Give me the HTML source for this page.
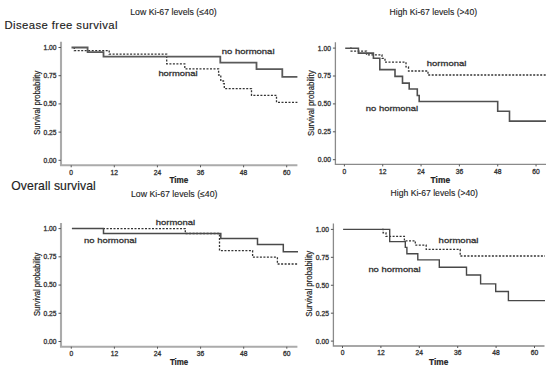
<!DOCTYPE html>
<html><head><meta charset="utf-8"><style>
html,body{margin:0;padding:0;background:#fff;width:550px;height:370px;overflow:hidden}
svg{display:block;font-family:"Liberation Sans", sans-serif}
</style></head><body>
<svg width="550" height="370" viewBox="0 0 550 370">
<rect width="550" height="370" fill="#fff"/>
<path d="M61.0,41.8 V165.3 H297.4" fill="none" stroke="#ababab" stroke-width="2.1"/>
<path d="M58.5,47.50 H61.0" stroke="#555" stroke-width="1"/>
<text x="56.5" y="49.90" font-size="6.7" font-weight="normal" fill="#333" text-anchor="end"  stroke="#333" stroke-width="0.3">1.00</text>
<path d="M58.5,75.70 H61.0" stroke="#555" stroke-width="1"/>
<text x="56.5" y="78.10" font-size="6.7" font-weight="normal" fill="#333" text-anchor="end"  stroke="#333" stroke-width="0.3">0.75</text>
<path d="M58.5,103.90 H61.0" stroke="#555" stroke-width="1"/>
<text x="56.5" y="106.30" font-size="6.7" font-weight="normal" fill="#333" text-anchor="end"  stroke="#333" stroke-width="0.3">0.50</text>
<path d="M58.5,132.10 H61.0" stroke="#555" stroke-width="1"/>
<text x="56.5" y="134.50" font-size="6.7" font-weight="normal" fill="#333" text-anchor="end"  stroke="#333" stroke-width="0.3">0.25</text>
<path d="M58.5,160.30 H61.0" stroke="#555" stroke-width="1"/>
<text x="56.5" y="162.70" font-size="6.7" font-weight="normal" fill="#333" text-anchor="end"  stroke="#333" stroke-width="0.3">0.00</text>
<path d="M71.20,165.3 V167.3" stroke="#555" stroke-width="1"/>
<text x="71.20" y="174.70000000000002" font-size="6.7" font-weight="normal" fill="#333" text-anchor="middle"  stroke="#333" stroke-width="0.3">0</text>
<path d="M114.30,165.3 V167.3" stroke="#555" stroke-width="1"/>
<text x="114.30" y="174.70000000000002" font-size="6.7" font-weight="normal" fill="#333" text-anchor="middle"  stroke="#333" stroke-width="0.3">12</text>
<path d="M157.40,165.3 V167.3" stroke="#555" stroke-width="1"/>
<text x="157.40" y="174.70000000000002" font-size="6.7" font-weight="normal" fill="#333" text-anchor="middle"  stroke="#333" stroke-width="0.3">24</text>
<path d="M200.50,165.3 V167.3" stroke="#555" stroke-width="1"/>
<text x="200.50" y="174.70000000000002" font-size="6.7" font-weight="normal" fill="#333" text-anchor="middle"  stroke="#333" stroke-width="0.3">36</text>
<path d="M243.60,165.3 V167.3" stroke="#555" stroke-width="1"/>
<text x="243.60" y="174.70000000000002" font-size="6.7" font-weight="normal" fill="#333" text-anchor="middle"  stroke="#333" stroke-width="0.3">48</text>
<path d="M286.70,165.3 V167.3" stroke="#555" stroke-width="1"/>
<text x="286.70" y="174.70000000000002" font-size="6.7" font-weight="normal" fill="#333" text-anchor="middle"  stroke="#333" stroke-width="0.3">60</text>
<text transform="translate(39.7,134.8) rotate(-90)" font-size="8.6" fill="#222" stroke="#222" stroke-width="0.2" textLength="64.00000000000001" lengthAdjust="spacingAndGlyphs">Survival probability</text>
<path d="M73.5,47.8 74.3,47.8 74.3,50.6 109.2,50.6 109.2,54.2 166.7,54.2 166.7,63.9 184.8,63.9 184.8,68.8 218.6,68.8 218.6,75 220.8,75 220.8,81 223.5,81 223.5,83.6 224.3,83.6 224.3,88.6 251.5,88.6 251.5,95.4 276.5,95.4 276.5,102.3 297.4,102.3" fill="none" stroke="#333" stroke-width="1.3" stroke-dasharray="2,1.5"/>
<path d="M71.5,47.5 87.6,47.5 87.6,52.2 103.5,52.2 103.5,56.7 220.3,56.7 220.3,62.7 256.5,62.7 256.5,69.2 282.3,69.2 282.3,76.9 297.4,76.9" fill="none" stroke="#5a5a5a" stroke-width="1.8"/>
<path d="M335.4,42.3 V164.4 H546" fill="none" stroke="#8a8a8a" stroke-width="1.3"/>
<path d="M332.9,48.10 H335.4" stroke="#555" stroke-width="1"/>
<text x="330.9" y="50.50" font-size="6.7" font-weight="normal" fill="#333" text-anchor="end"  stroke="#333" stroke-width="0.3">1.00</text>
<path d="M332.9,76.00 H335.4" stroke="#555" stroke-width="1"/>
<text x="330.9" y="78.40" font-size="6.7" font-weight="normal" fill="#333" text-anchor="end"  stroke="#333" stroke-width="0.3">0.75</text>
<path d="M332.9,103.90 H335.4" stroke="#555" stroke-width="1"/>
<text x="330.9" y="106.30" font-size="6.7" font-weight="normal" fill="#333" text-anchor="end"  stroke="#333" stroke-width="0.3">0.50</text>
<path d="M332.9,131.80 H335.4" stroke="#555" stroke-width="1"/>
<text x="330.9" y="134.20" font-size="6.7" font-weight="normal" fill="#333" text-anchor="end"  stroke="#333" stroke-width="0.3">0.25</text>
<path d="M332.9,159.70 H335.4" stroke="#555" stroke-width="1"/>
<text x="330.9" y="162.10" font-size="6.7" font-weight="normal" fill="#333" text-anchor="end"  stroke="#333" stroke-width="0.3">0.00</text>
<path d="M344.40,164.4 V166.4" stroke="#555" stroke-width="1"/>
<text x="344.40" y="173.8" font-size="6.7" font-weight="normal" fill="#333" text-anchor="middle"  stroke="#333" stroke-width="0.3">0</text>
<path d="M382.73,164.4 V166.4" stroke="#555" stroke-width="1"/>
<text x="382.73" y="173.8" font-size="6.7" font-weight="normal" fill="#333" text-anchor="middle"  stroke="#333" stroke-width="0.3">12</text>
<path d="M421.06,164.4 V166.4" stroke="#555" stroke-width="1"/>
<text x="421.06" y="173.8" font-size="6.7" font-weight="normal" fill="#333" text-anchor="middle"  stroke="#333" stroke-width="0.3">24</text>
<path d="M459.39,164.4 V166.4" stroke="#555" stroke-width="1"/>
<text x="459.39" y="173.8" font-size="6.7" font-weight="normal" fill="#333" text-anchor="middle"  stroke="#333" stroke-width="0.3">36</text>
<path d="M497.72,164.4 V166.4" stroke="#555" stroke-width="1"/>
<text x="497.72" y="173.8" font-size="6.7" font-weight="normal" fill="#333" text-anchor="middle"  stroke="#333" stroke-width="0.3">48</text>
<path d="M536.05,164.4 V166.4" stroke="#555" stroke-width="1"/>
<text x="536.05" y="173.8" font-size="6.7" font-weight="normal" fill="#333" text-anchor="middle"  stroke="#333" stroke-width="0.3">60</text>
<text transform="translate(313.6,136.1) rotate(-90)" font-size="8.6" fill="#222" stroke="#222" stroke-width="0.2" textLength="65.8" lengthAdjust="spacingAndGlyphs">Survival probability</text>
<path d="M350.0,48.2 351.1,48.2 351.1,51.1 366.5,51.1 366.5,54.8 382,54.8 382,58.4 385,58.4 385,62.2 406,62.2 406,66.9 408.5,66.9 408.5,71 428,71 428,75 546,75" fill="none" stroke="#333" stroke-width="1.3" stroke-dasharray="2,1.5"/>
<path d="M345.2,48.2 358.4,48.2 358.4,53.1 373.4,53.1 373.4,58.3 379.8,58.3 379.8,69.6 395,69.6 395,76.4 402.5,76.4 402.5,83.1 409.2,83.1 409.2,89 417.3,89 417.3,95.5 419.2,95.5 419.2,101.5 497.7,101.5 497.7,111.2 509.5,111.2 509.5,121.1 546,121.1" fill="none" stroke="#505050" stroke-width="1.6"/>
<path d="M61.0,222.9 V346.7 H297.4" fill="none" stroke="#ababab" stroke-width="2.1"/>
<path d="M58.5,228.60 H61.0" stroke="#555" stroke-width="1"/>
<text x="56.5" y="231.00" font-size="6.7" font-weight="normal" fill="#333" text-anchor="end"  stroke="#333" stroke-width="0.3">1.00</text>
<path d="M58.5,256.82 H61.0" stroke="#555" stroke-width="1"/>
<text x="56.5" y="259.22" font-size="6.7" font-weight="normal" fill="#333" text-anchor="end"  stroke="#333" stroke-width="0.3">0.75</text>
<path d="M58.5,285.05 H61.0" stroke="#555" stroke-width="1"/>
<text x="56.5" y="287.45" font-size="6.7" font-weight="normal" fill="#333" text-anchor="end"  stroke="#333" stroke-width="0.3">0.50</text>
<path d="M58.5,313.27 H61.0" stroke="#555" stroke-width="1"/>
<text x="56.5" y="315.67" font-size="6.7" font-weight="normal" fill="#333" text-anchor="end"  stroke="#333" stroke-width="0.3">0.25</text>
<path d="M58.5,341.50 H61.0" stroke="#555" stroke-width="1"/>
<text x="56.5" y="343.90" font-size="6.7" font-weight="normal" fill="#333" text-anchor="end"  stroke="#333" stroke-width="0.3">0.00</text>
<path d="M71.30,346.7 V348.7" stroke="#555" stroke-width="1"/>
<text x="71.30" y="356.09999999999997" font-size="6.7" font-weight="normal" fill="#333" text-anchor="middle"  stroke="#333" stroke-width="0.3">0</text>
<path d="M114.40,346.7 V348.7" stroke="#555" stroke-width="1"/>
<text x="114.40" y="356.09999999999997" font-size="6.7" font-weight="normal" fill="#333" text-anchor="middle"  stroke="#333" stroke-width="0.3">12</text>
<path d="M157.50,346.7 V348.7" stroke="#555" stroke-width="1"/>
<text x="157.50" y="356.09999999999997" font-size="6.7" font-weight="normal" fill="#333" text-anchor="middle"  stroke="#333" stroke-width="0.3">24</text>
<path d="M200.60,346.7 V348.7" stroke="#555" stroke-width="1"/>
<text x="200.60" y="356.09999999999997" font-size="6.7" font-weight="normal" fill="#333" text-anchor="middle"  stroke="#333" stroke-width="0.3">36</text>
<path d="M243.70,346.7 V348.7" stroke="#555" stroke-width="1"/>
<text x="243.70" y="356.09999999999997" font-size="6.7" font-weight="normal" fill="#333" text-anchor="middle"  stroke="#333" stroke-width="0.3">48</text>
<path d="M286.80,346.7 V348.7" stroke="#555" stroke-width="1"/>
<text x="286.80" y="356.09999999999997" font-size="6.7" font-weight="normal" fill="#333" text-anchor="middle"  stroke="#333" stroke-width="0.3">60</text>
<text transform="translate(39.8,316.1) rotate(-90)" font-size="8.6" fill="#222" stroke="#222" stroke-width="0.2" textLength="63.30000000000001" lengthAdjust="spacingAndGlyphs">Survival probability</text>
<path d="M103.0,228.6 185.3,228.6 185.3,233.5 219.5,233.5 219.5,250.7 252.6,250.7 252.6,257.2 277.4,257.2 277.4,264 298,264" fill="none" stroke="#333" stroke-width="1.3" stroke-dasharray="2,1.5"/>
<path d="M71.9,228.6 103.5,228.6 103.5,233.5 220.8,233.5 220.8,238.4 257.5,238.4 257.5,244.6 283.3,244.6 283.3,251.7 298,251.7" fill="none" stroke="#4a4a4a" stroke-width="1.5"/>
<path d="M333.4,223.5 V346.0 H544.5" fill="none" stroke="#8a8a8a" stroke-width="1.3"/>
<path d="M330.9,229.40 H333.4" stroke="#555" stroke-width="1"/>
<text x="328.9" y="231.80" font-size="6.7" font-weight="normal" fill="#333" text-anchor="end"  stroke="#333" stroke-width="0.3">1.00</text>
<path d="M330.9,257.32 H333.4" stroke="#555" stroke-width="1"/>
<text x="328.9" y="259.72" font-size="6.7" font-weight="normal" fill="#333" text-anchor="end"  stroke="#333" stroke-width="0.3">0.75</text>
<path d="M330.9,285.25 H333.4" stroke="#555" stroke-width="1"/>
<text x="328.9" y="287.65" font-size="6.7" font-weight="normal" fill="#333" text-anchor="end"  stroke="#333" stroke-width="0.3">0.50</text>
<path d="M330.9,313.18 H333.4" stroke="#555" stroke-width="1"/>
<text x="328.9" y="315.57" font-size="6.7" font-weight="normal" fill="#333" text-anchor="end"  stroke="#333" stroke-width="0.3">0.25</text>
<path d="M330.9,341.10 H333.4" stroke="#555" stroke-width="1"/>
<text x="328.9" y="343.50" font-size="6.7" font-weight="normal" fill="#333" text-anchor="end"  stroke="#333" stroke-width="0.3">0.00</text>
<path d="M342.50,346.0 V348.0" stroke="#555" stroke-width="1"/>
<text x="342.50" y="355.4" font-size="6.7" font-weight="normal" fill="#333" text-anchor="middle"  stroke="#333" stroke-width="0.3">0</text>
<path d="M380.90,346.0 V348.0" stroke="#555" stroke-width="1"/>
<text x="380.90" y="355.4" font-size="6.7" font-weight="normal" fill="#333" text-anchor="middle"  stroke="#333" stroke-width="0.3">12</text>
<path d="M419.30,346.0 V348.0" stroke="#555" stroke-width="1"/>
<text x="419.30" y="355.4" font-size="6.7" font-weight="normal" fill="#333" text-anchor="middle"  stroke="#333" stroke-width="0.3">24</text>
<path d="M457.70,346.0 V348.0" stroke="#555" stroke-width="1"/>
<text x="457.70" y="355.4" font-size="6.7" font-weight="normal" fill="#333" text-anchor="middle"  stroke="#333" stroke-width="0.3">36</text>
<path d="M496.10,346.0 V348.0" stroke="#555" stroke-width="1"/>
<text x="496.10" y="355.4" font-size="6.7" font-weight="normal" fill="#333" text-anchor="middle"  stroke="#333" stroke-width="0.3">48</text>
<path d="M534.50,346.0 V348.0" stroke="#555" stroke-width="1"/>
<text x="534.50" y="355.4" font-size="6.7" font-weight="normal" fill="#333" text-anchor="middle"  stroke="#333" stroke-width="0.3">60</text>
<text transform="translate(311.6,316.8) rotate(-90)" font-size="8.6" fill="#222" stroke="#222" stroke-width="0.2" textLength="66.0" lengthAdjust="spacingAndGlyphs">Survival probability</text>
<path d="M382.0,229.4 383.1,229.4 383.1,232.8 386,232.8 386,236.3 404.4,236.3 404.4,240.9 415.3,240.9 415.3,245.1 426.2,245.1 426.2,249.3 460.2,249.3 460.2,256 545,256" fill="none" stroke="#333" stroke-width="1.3" stroke-dasharray="2,1.5"/>
<path d="M343.1,229.4 389.7,229.4 389.7,241.6 405.3,241.6 405.3,247.4 406.9,247.4 406.9,253.8 417.8,253.8 417.8,259.9 439.3,259.9 439.3,267.3 466.5,267.3 466.5,275 480.6,275 480.6,283.9 495.7,283.9 495.7,291.5 508.4,291.5 508.4,300.6 545,300.6" fill="none" stroke="#484848" stroke-width="1.4"/>
<text x="4.5" y="28.9" font-size="11.3" font-weight="normal" fill="#222" text-anchor="start" textLength="113" lengthAdjust="spacing"  stroke="#222" stroke-width="0.15">Disease free survival</text>
<text x="11.3" y="190.2" font-size="12.2" font-weight="normal" fill="#222" text-anchor="start" textLength="84.5" lengthAdjust="spacing"  stroke="#222" stroke-width="0.15">Overall survival</text>
<text x="130.2" y="14.8" font-size="8.8" font-weight="normal" fill="#222" text-anchor="start" textLength="86.5" lengthAdjust="spacingAndGlyphs"  stroke="#222" stroke-width="0.12">Low Ki-67 levels (≤40)</text>
<text x="389.6" y="15.1" font-size="8.8" font-weight="normal" fill="#222" text-anchor="start" textLength="87.5" lengthAdjust="spacingAndGlyphs"  stroke="#222" stroke-width="0.12">High Ki-67 levels (&gt;40)</text>
<text x="131.0" y="196.6" font-size="8.8" font-weight="normal" fill="#222" text-anchor="start" textLength="86.5" lengthAdjust="spacingAndGlyphs"  stroke="#222" stroke-width="0.12">Low Ki-67 levels (≤40)</text>
<text x="390.5" y="196.2" font-size="8.8" font-weight="normal" fill="#222" text-anchor="start" textLength="87.5" lengthAdjust="spacingAndGlyphs"  stroke="#222" stroke-width="0.12">High Ki-67 levels (&gt;40)</text>
<text x="221.79999999999998" y="53.95" font-size="8" font-weight="normal" fill="#333" text-anchor="start" textLength="52.7" lengthAdjust="spacingAndGlyphs"  stroke="#333" stroke-width="0.3">no hormonal</text>
<text x="158.39999999999998" y="76.35" font-size="8" font-weight="normal" fill="#333" text-anchor="start" textLength="39.2" lengthAdjust="spacingAndGlyphs"  stroke="#333" stroke-width="0.3">hormonal</text>
<text x="426.8" y="65.55" font-size="8" font-weight="normal" fill="#333" text-anchor="start" textLength="39.5" lengthAdjust="spacingAndGlyphs"  stroke="#333" stroke-width="0.3">hormonal</text>
<text x="365.8" y="110.65" font-size="8" font-weight="normal" fill="#333" text-anchor="start" textLength="52.4" lengthAdjust="spacingAndGlyphs"  stroke="#333" stroke-width="0.3">no hormonal</text>
<text x="155.79999999999998" y="224.75" font-size="8" font-weight="normal" fill="#333" text-anchor="start" textLength="39.3" lengthAdjust="spacingAndGlyphs"  stroke="#333" stroke-width="0.3">hormonal</text>
<text x="84.10000000000001" y="243.05" font-size="8" font-weight="normal" fill="#333" text-anchor="start" textLength="52.4" lengthAdjust="spacingAndGlyphs"  stroke="#333" stroke-width="0.3">no hormonal</text>
<text x="438.59999999999997" y="242.55" font-size="8" font-weight="normal" fill="#333" text-anchor="start" textLength="39.8" lengthAdjust="spacingAndGlyphs"  stroke="#333" stroke-width="0.3">hormonal</text>
<text x="368.4" y="271.95" font-size="8" font-weight="normal" fill="#333" text-anchor="start" textLength="52.3" lengthAdjust="spacingAndGlyphs"  stroke="#333" stroke-width="0.3">no hormonal</text>
<text x="169.5" y="182.8" font-size="9" font-weight="bold" fill="#222" text-anchor="start" textLength="18.8" lengthAdjust="spacingAndGlyphs"  stroke="#222" stroke-width="0.2">Time</text>
<text x="430.59999999999997" y="182.8" font-size="9" font-weight="bold" fill="#222" text-anchor="start" textLength="19.5" lengthAdjust="spacingAndGlyphs"  stroke="#222" stroke-width="0.2">Time</text>
<text x="169.89999999999998" y="364.6" font-size="9" font-weight="bold" fill="#222" text-anchor="start" textLength="18.4" lengthAdjust="spacingAndGlyphs"  stroke="#222" stroke-width="0.2">Time</text>
<text x="429.0" y="364.9" font-size="9" font-weight="bold" fill="#222" text-anchor="start" textLength="19.3" lengthAdjust="spacingAndGlyphs"  stroke="#222" stroke-width="0.2">Time</text>
</svg></body></html>
